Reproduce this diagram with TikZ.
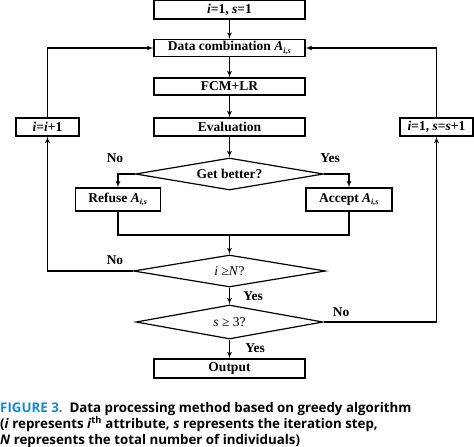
\documentclass[tikz,border=0pt]{standalone}
\usepackage{fontspec}
\setmainfont{Liberation Serif}
\newfontfamily\capfont{Open Sans}
\usetikzlibrary{arrows, shapes.geometric}
\definecolor{capblue}{RGB}{25,135,205}

\begin{document}
\begin{tikzpicture}[x=1pt, y=-1pt]

\tikzset{box/.style = {shape=rectangle, draw, line width=1.2pt, minimum height=17pt, inner sep=0pt, font=\bfseries\fontsize{13.5}{14}\selectfont}}
\tikzset{cond/.style = {shape=diamond, draw, line width=1.2pt, aspect=6, inner sep=0pt, font=\fontsize{13.5}{14}\selectfont}}
\tikzset{edge/.style = {->, > = latex', line width=1.2pt}}
\tikzset{tag/.style = {font=\bfseries\fontsize{13.5}{14}\selectfont}}
\useasboundingbox (0,0) rectangle (474,447);

%verticies
\node[box, minimum width=151pt, minimum height=19pt] (init) at (229.5,9.5) {\textit{i}=1, \textit{s}=1};
\node[box, minimum width=151pt] (combo) at (229.5,48) {Data combination \textit{A}$_{\textit{\footnotesize i,s}}$};
\node[box, minimum width=151pt] (fcm) at (229.5,86.5) {FCM+LR};
\node[box, minimum width=151pt, minimum height=18pt] (eval) at (229.5,127) {Evaluation};
\node[box, minimum width=63pt, minimum height=18pt] (inc) at (47.5,127) {\textit{i}=\textit{i}+1};
\node[box, minimum width=73pt, minimum height=18pt] (next) at (436.5,127) {\textit{i}=1, \textit{s}=\textit{s}+1};
\node[cond, minimum width=188pt, minimum height=32pt, font=\bfseries\fontsize{13.5}{14}\selectfont] (better) at (229.5,174) {Get better?};
\node[box, minimum width=85pt, minimum height=23pt] (refuse) at (118,199.5) {Refuse \textit{A}$_{\textit{\footnotesize i,s}}$};
\node[box, minimum width=86pt, minimum height=23pt] (accept) at (349,199.5) {Accept \textit{A}$_{\textit{\footnotesize i,s}}$};
\coordinate (merge) at (229.5,235);
\node[cond, minimum width=192pt, minimum height=32pt] (ige) at (229.5,271) {\textit{i} ≥\textit{N}?};
\node[cond, minimum width=187pt, minimum height=34pt] (sge) at (229.5,322) {\textit{s} ≥ 3?};
\node[box, minimum width=151pt, minimum height=19pt] (out) at (229.5,368.5) {Output};

%edges
\path[edge] (init) edge (combo);
\path[edge] (combo) edge (fcm);
\path[edge] (fcm) edge (eval);
\path[edge] (eval) edge (better);
\draw[edge] (better.west) -| (refuse.north);
\draw[edge] (better.east) -| (accept.north);
\draw[line width=1.2pt] (refuse.south) |- (merge) -| (accept.south);
\path[edge] (merge) edge (ige);
\draw[edge] (ige.west) -| (inc.south);
\draw[edge] (inc.north) |- (combo.west);
\path[edge] (ige) edge (sge);
\draw[edge] (sge.east) -| (next.south);
\draw[edge] (next.north) |- (combo.east);
\path[edge] (sge) edge (out);

%labels
\node[tag] (no1) at (115,158) {No};
\node[tag] (yes1) at (330,158) {Yes};
\node[tag] (no2) at (115,260) {No};
\node[tag] (yes2) at (253,296) {Yes};
\node[tag] (no3) at (341,312) {No};
\node[tag] (yes3) at (255,348) {Yes};

%caption
\node[anchor=north west, inner sep=0pt, align=left, font=\capfont\bfseries\fontsize{13.3}{15.3}\selectfont] (cap) at (0,402)
  {\textcolor{capblue}{FIGURE 3.}\ \ Data processing method based on greedy algorithm\\
   (\textit{i} represents \textit{i}\textsuperscript{th} attribute, \textit{s} represents the iteration step,\\
   \textit{N} represents the total number of individuals)};

\end{tikzpicture}
\end{document}
